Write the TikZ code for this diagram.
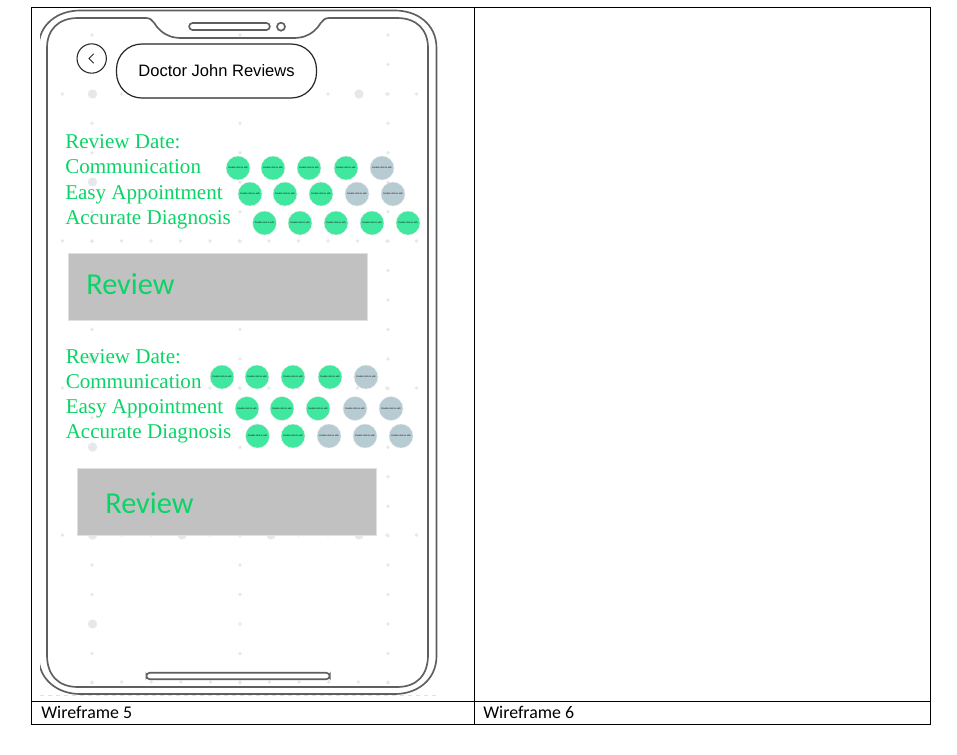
\documentclass[tikz,border=0pt]{standalone}
\usepackage{fontspec}
\setmainfont{Liberation Serif}
\newfontfamily\armfont{Liberation Sans}
\newfontfamily\calfont{Carlito}
\definecolor{mintgreen}{HTML}{3FE89E}
\definecolor{slategrey}{HTML}{B7CBD2}
\definecolor{textgreen}{HTML}{0BD467}
\definecolor{dotgrey}{HTML}{E6E8EB}
\definecolor{phonegrey}{HTML}{5F5F5F}
\definecolor{boxgrey}{HTML}{C1C1C1}
\tikzset{
  smalldot/.style={circle,fill=dotgrey,inner sep=0pt,minimum size=2.8pt},
  bigdot/.style={circle,fill=dotgrey,inner sep=0pt,minimum size=7pt},
  rate/.style={circle,inner sep=0pt,minimum size=18pt,draw=white!85!gray,line width=0.3pt,font=\armfont\fontsize{1.7}{2}\selectfont},
  ratedon/.style={rate,fill=mintgreen},
  rateoff/.style={rate,fill=slategrey},
  greentext/.style={anchor=base west,inner sep=0pt,text=textgreen,font=\fontsize{15.8}{18}\selectfont},
  reviewbox/.style={draw=black!12,fill=boxgrey,line width=0.4pt,minimum width=224pt,minimum height=50.5pt,inner sep=0pt},
  reviewtext/.style={anchor=base west,inner sep=0pt,text=textgreen,font=\calfont\fontsize{22.8}{26}\selectfont},
  celltext/.style={anchor=base west,inner sep=0pt,font=\calfont\fontsize{13.4}{15}\selectfont},
  phoneline/.style={draw=phonegrey,line width=1.25pt}
}
\begin{document}
\begin{tikzpicture}[x=0.75pt,y=-0.75pt]
  \useasboundingbox (0,0) rectangle (957,754);
  \fill[white] (0,0) rectangle (957,754);
  % background dots
  \foreach \x in {92,240,388} \foreach \k in {0,...,22} \node[smalldot] (v\x-\k) at (\x,{35+29.45*\k}) {};
  \foreach \y in {94,241,388,535} \foreach \k in {0,...,12} \node[smalldot] (h\y-\k) at ({62.5+29.5*\k},\y) {};
  \foreach \k in {0,...,10} \node[smalldot] (b-\k) at ({92+29.6*\k},682) {};
  \foreach \y in {94,182,271,359,447,535,624} \node[bigdot] (l\y) at (92.5,\y) {};
  \node[bigdot] (d1) at (359,94) {};
  \foreach \x in {182,271,359} \node[bigdot] (d\x) at (\x,535) {};
  % phone
  \begin{scope}
    \clip (40,0) rectangle (445,700);
    \draw[phoneline] (38.5,48) .. controls (38.5,24) and (58,10.5) .. (80,10.5) -- (395,10.5)
       .. controls (417,10.5) and (436.5,24) .. (436.5,48) -- (436.5,656)
       .. controls (436.5,680) and (417,694) .. (395,694) -- (80,694)
       .. controls (58,694) and (38.5,680) .. (38.5,656) -- cycle;
  \end{scope}
  \draw[phoneline] (47,48) .. controls (47,30) and (58,18) .. (78,18) -- (146,18)
     .. controls (154,18) and (155,27) .. (161,31) .. controls (167,36) and (173,38) .. (182,38) -- (293,38)
     .. controls (302,38) and (308,36) .. (314,31) .. controls (320,27) and (321,18) .. (329,18) -- (397,18)
     .. controls (417,18) and (428,30) .. (428,48) -- (428,655)
     .. controls (428,675) and (417,687) .. (397,687) -- (78,687)
     .. controls (58,687) and (47,675) .. (47,655) -- cycle;
  \draw[black!12,dashed,line width=0.4pt] (40,695.5) -- (437,695.5);
  \node[phoneline,rounded corners=2.5pt,minimum width=60.5pt,minimum height=5.2pt,inner sep=0pt] (speaker) at (229.5,26.5) {};
  \node[phoneline,circle,minimum size=6pt,inner sep=0pt] (camera) at (281,26.7) {};
  \node[phoneline,rounded corners=2.5pt,minimum width=137.5pt,minimum height=4.8pt,inner sep=0pt] (home) at (238,676) {};
  % header
  \node[draw=black!85,fill=white,circle,line width=0.8pt,minimum size=22pt,inner sep=0pt] (back) at (91.7,58.5) {};
  \draw[black!85,line width=0.7pt,line cap=round] (93.5,54) -- (89,58.5) -- (93.5,63);
  \node[draw=black!85,fill=white,line width=0.9pt,rounded corners=19pt,minimum width=150pt,minimum height=40.5pt,inner sep=0pt,font=\armfont\fontsize{12.4}{14}\selectfont] (title) at (216.5,71) {Doctor John Reviews};
  % first review
  \node[greentext] (date1) at (65,148) {Review Date:};
  \node[greentext] (comm1) at (65,173.5) {Communication};
  \node[greentext] (easy1) at (65,199) {Easy Appointment};
  \node[greentext] (diag1) at (65,224) {Accurate Diagnosis};
  \foreach \x/\s [count=\i] in {238/ratedon,273/ratedon,309/ratedon,346/ratedon,382/rateoff}
    \node[\s] (ca\i) at (\x,168) {Double click to edit};
  \foreach \x/\s [count=\i] in {250/ratedon,285/ratedon,321/ratedon,357/rateoff,393/rateoff}
    \node[\s] (cb\i) at (\x,194) {Double click to edit};
  \foreach \x/\s [count=\i] in {264.5/ratedon,300/ratedon,336/ratedon,372/ratedon,408/ratedon}
    \node[\s] (cc\i) at (\x,223) {Double click to edit};
  \node[reviewbox] (box1) at (217.5,287) {};
  \node[reviewtext] (rev1) at (86,294) {Review};
  % second review
  \node[greentext] (date2) at (65.5,363) {Review Date:};
  \node[greentext] (comm2) at (65.5,388) {Communication};
  \node[greentext] (easy2) at (65.5,413.5) {Easy Appointment};
  \node[greentext] (diag2) at (65.5,438.5) {Accurate Diagnosis};
  \foreach \x/\s [count=\i] in {222/ratedon,257/ratedon,293/ratedon,330/ratedon,366/rateoff}
    \node[\s] (da\i) at (\x,377) {Double click to edit};
  \foreach \x/\s [count=\i] in {247/ratedon,282/ratedon,318/ratedon,355/rateoff,391/rateoff}
    \node[\s] (db\i) at (\x,408.5) {Double click to edit};
  \foreach \x/\s [count=\i] in {257.5/ratedon,293/ratedon,329/rateoff,365/rateoff,401/rateoff}
    \node[\s] (dc\i) at (\x,436) {Double click to edit};
  \node[reviewbox] (box2) at (226.5,501.5) {};
  \node[reviewtext] (rev2) at (105,513) {Review};
  % table
  \draw[black,line width=0.75pt] (31,7) rectangle (930,724);
  \draw[black,line width=0.75pt] (474.5,7) -- (474.5,724);
  \draw[black,line width=0.75pt] (31,701.5) -- (930,701.5);
  \node[celltext] (cap5) at (41,718) {Wireframe 5};
  \node[celltext] (cap6) at (483,718) {Wireframe 6};
\end{tikzpicture}
\end{document}
